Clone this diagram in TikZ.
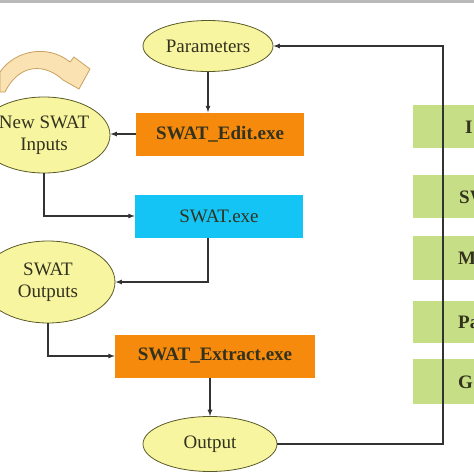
\documentclass[tikz,border=0pt]{standalone}
\usepackage{fontspec}
\setmainfont{Liberation Serif}
\usetikzlibrary{shapes.geometric}

\definecolor{ellfill}{RGB}{248,245,160}
\definecolor{ellline}{RGB}{90,90,40}
\definecolor{exeorange}{RGB}{245,138,12}
\definecolor{execyan}{RGB}{20,196,244}
\definecolor{boxgreen}{RGB}{198,222,133}
\definecolor{arrowfill}{RGB}{250,226,178}
\definecolor{arrowline}{RGB}{200,160,96}
\definecolor{txt}{RGB}{50,50,30}

\begin{document}
\begin{tikzpicture}[x=1pt, y=-1pt,
    every node/.style={text=txt, font=\fontsize{19}{22}\selectfont},
    stateell/.style={draw=ellline, fill=ellfill, ellipse, line width=0.8pt,
        inner sep=0pt, align=center},
    exebox/.style={rectangle, inner sep=0pt,
        minimum width=168pt, minimum height=43pt},
    grnbox/.style={fill=boxgreen, draw=none},
    link/.style={draw=gray!40!black, line width=1.2pt, ->, >=latex}]

    \useasboundingbox (0,0) rectangle (474,474);

    % top strip
    \fill[gray!55] (0,0) rectangle (474,3);

    % Curved arrow
    \filldraw[fill=arrowfill, draw=arrowline, line width=0.8pt]
        (0,72) .. controls (15,50) and (48,44) .. (70,62)
        -- (74,57) -- (90,69) -- (79,89) -- (63,80)
        .. controls (46,64) and (20,62) .. (5,92) -- (0,92) -- cycle;

    % Ellipses with text
    \node[stateell,
        minimum width=130pt,
        minimum height=51pt] (params) at (208,46) {Parameters};

    \node[stateell,
        minimum width=132pt,
        minimum height=76pt] (inputs) at (44,135) {New SWAT\\Inputs};

    \node[stateell,
        minimum width=134pt,
        minimum height=82pt] (outputs) at (48,282) {SWAT\\Outputs};

    \node[stateell,
        minimum width=134pt,
        minimum height=55pt] (output) at (210,444) {Output};

    % Program boxes
    \node[exebox,
        fill=exeorange,
        font=\fontsize{19}{22}\selectfont\bfseries] (edit) at (220,134) {SWAT\_Edit.exe};

    \node[exebox,
        fill=execyan] (swat) at (219,216) {SWAT.exe};

    \node[exebox,
        fill=exeorange,
        minimum width=200pt,
        font=\fontsize{19}{22}\selectfont\bfseries] (extract) at (215,356) {SWAT\_Extract.exe};

    % Green boxes on the right
    \fill[grnbox] (413,105) rectangle (480,148);
    \fill[grnbox] (413,175) rectangle (480,218);
    \fill[grnbox] (413,236) rectangle (480,280);
    \fill[grnbox] (413,301) rectangle (480,343);
    \fill[grnbox] (413,359) rectangle (480,404);

    \node[anchor=west, inner sep=0pt, font=\fontsize{19}{22}\selectfont\bfseries] (g1) at (465,127) {I};
    \node[anchor=west, inner sep=0pt, font=\fontsize{19}{22}\selectfont\bfseries] (g2) at (459,197) {SW};
    \node[anchor=west, inner sep=0pt, font=\fontsize{19}{22}\selectfont\bfseries] (g3) at (458,258) {M};
    \node[anchor=west, inner sep=0pt, font=\fontsize{19}{22}\selectfont\bfseries] (g4) at (458,322) {Pa};
    \node[anchor=west, inner sep=0pt, font=\fontsize{19}{22}\selectfont\bfseries] (g5) at (458,382) {G};

    % Connectors
    \coordinate (bus) at (443,46);
    \draw[link] (params.south) -- (params.south |- edit.north);
    \draw[link] (edit.west) -- (edit.west -| inputs.east);
    \draw[link] (inputs.south) |- (swat.west);
    \draw[link] (swat.south -| params.south) |- (outputs.east);
    \draw[link] (outputs.south) |- (extract.west);
    \draw[link] (extract.south -| output.north) -- (output.north);
    \draw[link] (output.east) -| (bus) -- (params.east);

\end{tikzpicture}
\end{document}
